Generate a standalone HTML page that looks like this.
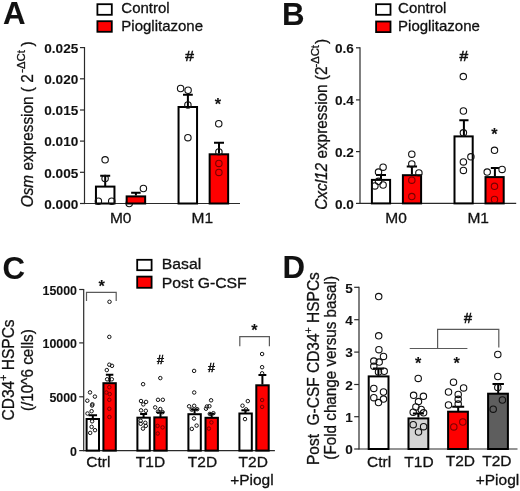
<!DOCTYPE html>
<html><head><meta charset="utf-8"><title>Figure</title>
<style>
html,body{margin:0;padding:0;background:#fff;}
body{width:520px;height:491px;overflow:hidden;}
svg{display:block;font-family:'Liberation Sans', Arial, Helvetica, sans-serif;}
svg text{fill:#111;stroke:#111;stroke-width:0.3px;}
svg text[font-weight=bold]{stroke-width:0.08px;}
svg text.h{stroke-width:0.55px;}
</style></head>
<body>
<svg width="520" height="491" viewBox="0 0 520 491">
<text x="3.0" y="24.4" font-size="31.2" font-weight="bold">A</text>
<rect x="97.4" y="4.2" width="14.4" height="10.60" fill="#fff" stroke="#000" stroke-width="1.8"/>
<rect x="97.4" y="21.2" width="14.4" height="10.60" fill="#fe0000" stroke="#000" stroke-width="1.8"/>
<text x="121.3" y="12.8" font-size="15">Control</text>
<text x="121.3" y="31.3" font-size="15">Pioglitazone</text>
<line x1="84.5" y1="47.0" x2="84.5" y2="204.1" stroke="#2a2a2a" stroke-width="1.2"/>
<line x1="80.0" y1="203.5" x2="84.5" y2="203.5" stroke="#2a2a2a" stroke-width="1.2"/>
<text x="78.3" y="208.8" font-size="13.6" font-weight="bold" text-anchor="end">0.000</text>
<line x1="80.0" y1="172.3" x2="84.5" y2="172.3" stroke="#2a2a2a" stroke-width="1.2"/>
<text x="78.3" y="177.6" font-size="13.6" font-weight="bold" text-anchor="end">0.005</text>
<line x1="80.0" y1="141.1" x2="84.5" y2="141.1" stroke="#2a2a2a" stroke-width="1.2"/>
<text x="78.3" y="146.4" font-size="13.6" font-weight="bold" text-anchor="end">0.010</text>
<line x1="80.0" y1="110.0" x2="84.5" y2="110.0" stroke="#2a2a2a" stroke-width="1.2"/>
<text x="78.3" y="115.3" font-size="13.6" font-weight="bold" text-anchor="end">0.015</text>
<line x1="80.0" y1="78.8" x2="84.5" y2="78.8" stroke="#2a2a2a" stroke-width="1.2"/>
<text x="78.3" y="84.1" font-size="13.6" font-weight="bold" text-anchor="end">0.020</text>
<line x1="80.0" y1="47.6" x2="84.5" y2="47.6" stroke="#2a2a2a" stroke-width="1.2"/>
<text x="78.3" y="52.9" font-size="13.6" font-weight="bold" text-anchor="end">0.025</text>
<line x1="84.5" y1="203.5" x2="240" y2="203.5" stroke="#2a2a2a" stroke-width="1.2"/>
<circle cx="129.20" cy="203.60" r="3.2" fill="none" stroke="#111" stroke-width="1.1"/>
<rect x="95.95" y="186.60" width="18.50" height="16.90" fill="#fff" stroke="#000" stroke-width="2"/>
<rect x="126.65" y="196.40" width="18.50" height="7.10" fill="#fe0000" stroke="#000" stroke-width="2"/>
<rect x="178.55" y="107.00" width="18.50" height="96.50" fill="#fff" stroke="#000" stroke-width="2"/>
<rect x="209.65" y="154.30" width="18.50" height="49.20" fill="#fe0000" stroke="#000" stroke-width="2"/>
<path d="M105.20 186.00V175.70M100.20 175.70H110.20" stroke="#000" stroke-width="2" fill="none"/>
<path d="M135.90 195.50V192.80M131.15 192.80H140.65" stroke="#000" stroke-width="2" fill="none"/>
<path d="M187.90 106.50V94.80M183.00 94.80H192.80" stroke="#000" stroke-width="2" fill="none"/>
<path d="M219.00 153.50V142.80M214.00 142.80H224.00" stroke="#000" stroke-width="2" fill="none"/>
<text x="189.45" y="60.6" font-size="15.5" text-anchor="middle" class="h">#</text>
<text x="217.85" y="109.6" font-size="16.3" font-weight="bold" text-anchor="middle">*</text>
<text x="120.7" y="223.1" font-size="15.5" text-anchor="middle">M0</text>
<text x="202.3" y="223.1" font-size="15.5" text-anchor="middle">M1</text>
<text transform="translate(32.9,207.3) rotate(-90) scale(0.96,1)" font-size="16"><tspan font-style="italic">Osm</tspan> expression ( 2</text>
<text transform="translate(25.2,72.7) rotate(-90)" font-size="11.3">-ΔCt</text>
<text transform="translate(32.9,46.4) rotate(-90) scale(0.96,1)" font-size="16">)</text>
<text x="281.9" y="24.8" font-size="31.2" font-weight="bold">B</text>
<rect x="376.09999999999997" y="4.2" width="14.4" height="10.60" fill="#fff" stroke="#000" stroke-width="1.8"/>
<rect x="376.09999999999997" y="21.5" width="14.4" height="10.60" fill="#fe0000" stroke="#000" stroke-width="1.8"/>
<text x="398.1" y="12.8" font-size="15">Control</text>
<text x="398.1" y="31.3" font-size="15">Pioglitazone</text>
<line x1="360.0" y1="47.199999999999996" x2="360.0" y2="204.0" stroke="#2a2a2a" stroke-width="1.2"/>
<line x1="356.0" y1="203.4" x2="360.0" y2="203.4" stroke="#2a2a2a" stroke-width="1.2"/>
<text x="353.9" y="208.7" font-size="13.6" font-weight="bold" text-anchor="end">0.0</text>
<line x1="356.0" y1="151.6" x2="360.0" y2="151.6" stroke="#2a2a2a" stroke-width="1.2"/>
<text x="353.9" y="156.9" font-size="13.6" font-weight="bold" text-anchor="end">0.2</text>
<line x1="356.0" y1="99.9" x2="360.0" y2="99.9" stroke="#2a2a2a" stroke-width="1.2"/>
<text x="353.9" y="105.2" font-size="13.6" font-weight="bold" text-anchor="end">0.4</text>
<line x1="356.0" y1="47.8" x2="360.0" y2="47.8" stroke="#2a2a2a" stroke-width="1.2"/>
<text x="353.9" y="53.1" font-size="13.6" font-weight="bold" text-anchor="end">0.6</text>
<line x1="360.0" y1="203.4" x2="516.2" y2="203.4" stroke="#2a2a2a" stroke-width="1.2"/>
<rect x="371.90" y="179.90" width="18.20" height="23.50" fill="#fff" stroke="#000" stroke-width="2"/>
<rect x="402.90" y="175.20" width="18.20" height="28.20" fill="#fe0000" stroke="#000" stroke-width="2"/>
<rect x="454.50" y="136.40" width="18.20" height="67.00" fill="#fff" stroke="#000" stroke-width="2"/>
<rect x="485.50" y="177.10" width="18.20" height="26.30" fill="#fe0000" stroke="#000" stroke-width="2"/>
<path d="M381.00 179.00V175.00M376.00 175.00H386.00" stroke="#000" stroke-width="2" fill="none"/>
<path d="M411.90 174.50V166.50M406.75 166.50H417.05" stroke="#000" stroke-width="2" fill="none"/>
<path d="M463.90 135.50V120.20M459.30 120.20H468.50" stroke="#000" stroke-width="2" fill="none"/>
<path d="M494.90 176.50V168.00M490.85 168.00H498.95" stroke="#000" stroke-width="2" fill="none"/>
<text x="463.85" y="61.1" font-size="15.5" text-anchor="middle" class="h">#</text>
<text x="494.3" y="140.4" font-size="16.3" font-weight="bold" text-anchor="middle">*</text>
<text x="396.0" y="223.1" font-size="15.5" text-anchor="middle">M0</text>
<text x="478.2" y="223.1" font-size="15.5" text-anchor="middle">M1</text>
<text transform="translate(326.8,209.8) rotate(-90) scale(0.96,1)" font-size="16"><tspan font-style="italic">Cxcl12</tspan> expression (2</text>
<text transform="translate(319.4,67.6) rotate(-90)" font-size="11.3">-ΔCt</text>
<text transform="translate(326.8,43.9) rotate(-90) scale(0.96,1)" font-size="16">)</text>
<text x="2.5" y="278.9" font-size="31.2" font-weight="bold">C</text>
<rect x="137.20000000000002" y="259.79999999999995" width="14.4" height="10.40" fill="#fff" stroke="#000" stroke-width="1.8"/>
<rect x="137.20000000000002" y="276.59999999999997" width="14.4" height="11.20" fill="#fe0000" stroke="#000" stroke-width="1.8"/>
<text transform="translate(161.7,269.0) scale(1.053,1)" font-size="15">Basal</text>
<text transform="translate(161.7,288.1) scale(1.053,1)" font-size="15">Post G-CSF</text>
<line x1="83.7" y1="288.9" x2="83.7" y2="451.20000000000005" stroke="#2a2a2a" stroke-width="1.2"/>
<line x1="79.2" y1="450.6" x2="83.7" y2="450.6" stroke="#2a2a2a" stroke-width="1.2"/>
<text x="77.0" y="455.6" font-size="12.4" font-weight="bold" text-anchor="end">0</text>
<line x1="79.2" y1="396.8" x2="83.7" y2="396.8" stroke="#2a2a2a" stroke-width="1.2"/>
<text x="77.0" y="401.8" font-size="12.4" font-weight="bold" text-anchor="end">5000</text>
<line x1="79.2" y1="342.9" x2="83.7" y2="342.9" stroke="#2a2a2a" stroke-width="1.2"/>
<text x="77.0" y="347.9" font-size="12.4" font-weight="bold" text-anchor="end">10000</text>
<line x1="79.2" y1="289.5" x2="83.7" y2="289.5" stroke="#2a2a2a" stroke-width="1.2"/>
<text x="77.0" y="294.5" font-size="12.4" font-weight="bold" text-anchor="end">15000</text>
<line x1="83.7" y1="450.6" x2="274.9" y2="450.6" stroke="#2a2a2a" stroke-width="1.2"/>
<rect x="86.60" y="419.00" width="12.40" height="31.60" fill="#fff" stroke="#000" stroke-width="2"/>
<rect x="103.40" y="383.20" width="12.40" height="67.40" fill="#fe0000" stroke="#000" stroke-width="2"/>
<rect x="137.40" y="417.70" width="12.40" height="32.90" fill="#fff" stroke="#000" stroke-width="2"/>
<rect x="154.30" y="417.40" width="12.40" height="33.20" fill="#fe0000" stroke="#000" stroke-width="2"/>
<rect x="188.40" y="414.20" width="12.40" height="36.40" fill="#fff" stroke="#000" stroke-width="2"/>
<rect x="205.50" y="417.80" width="12.40" height="32.80" fill="#fe0000" stroke="#000" stroke-width="2"/>
<rect x="239.40" y="413.50" width="12.40" height="37.10" fill="#fff" stroke="#000" stroke-width="2"/>
<rect x="256.30" y="385.30" width="12.40" height="65.30" fill="#fe0000" stroke="#000" stroke-width="2"/>
<path d="M92.80 418.50V415.20M88.55 415.20H97.05" stroke="#000" stroke-width="2" fill="none"/>
<path d="M109.60 382.50V374.80M105.85 374.80H113.35" stroke="#000" stroke-width="2" fill="none"/>
<path d="M143.60 417.00V414.00M140.10 414.00H147.10" stroke="#000" stroke-width="2" fill="none"/>
<path d="M160.50 417.00V412.50M157.00 412.50H164.00" stroke="#000" stroke-width="2" fill="none"/>
<path d="M194.60 413.50V409.50M190.85 409.50H198.35" stroke="#000" stroke-width="2" fill="none"/>
<path d="M211.70 417.00V413.80M208.70 413.80H214.70" stroke="#000" stroke-width="2" fill="none"/>
<path d="M245.40 413.00V410.20M241.40 410.20H249.40" stroke="#000" stroke-width="2" fill="none"/>
<path d="M262.40 384.50V375.10M258.45 375.10H266.35" stroke="#000" stroke-width="2" fill="none"/>
<path d="M86.5 301 V292.3 H116.2 V301" fill="none" stroke="#5a5a5a" stroke-width="1.2"/>
<path d="M239.8 346.2 V336.7 H269.4 V346.2" fill="none" stroke="#5a5a5a" stroke-width="1.2"/>
<text x="101.6" y="291.6" font-size="16.3" font-weight="bold" text-anchor="middle">*</text>
<text x="254.45" y="335.7" font-size="16.3" font-weight="bold" text-anchor="middle">*</text>
<text x="160.4" y="363.5" font-size="12.3" text-anchor="middle" class="h">#</text>
<text x="211.4" y="372.2" font-size="12.3" text-anchor="middle" class="h">#</text>
<text x="98.3" y="466.5" font-size="15.5" text-anchor="middle">Ctrl</text>
<text x="150.5" y="466.6" font-size="15.5" text-anchor="middle">T1D</text>
<text x="202.5" y="466.6" font-size="15.5" text-anchor="middle">T2D</text>
<text x="253.2" y="466.6" font-size="15.5" text-anchor="middle">T2D</text>
<text x="251.9" y="485.0" font-size="15.5" text-anchor="middle">+Piogl</text>
<text transform="translate(14.0,369.9) rotate(-90) scale(0.97,1)" font-size="16" text-anchor="middle">CD34<tspan font-size="11" dy="-7">+</tspan><tspan dy="7"> HSPCs</tspan></text>
<text transform="translate(33.0,370.1) rotate(-90) scale(0.955,1)" font-size="16" text-anchor="middle">(/10^6 cells)</text>
<text x="282.5" y="278.2" font-size="31.2" font-weight="bold">D</text>
<line x1="359.0" y1="286.7" x2="359.0" y2="449.6" stroke="#2a2a2a" stroke-width="1.2"/>
<line x1="354.2" y1="449.0" x2="359.0" y2="449.0" stroke="#2a2a2a" stroke-width="1.2"/>
<text x="352.9" y="454.3" font-size="13.6" font-weight="bold" text-anchor="end">0</text>
<line x1="354.2" y1="416.7" x2="359.0" y2="416.7" stroke="#2a2a2a" stroke-width="1.2"/>
<text x="352.9" y="422.0" font-size="13.6" font-weight="bold" text-anchor="end">1</text>
<line x1="354.2" y1="384.5" x2="359.0" y2="384.5" stroke="#2a2a2a" stroke-width="1.2"/>
<text x="352.9" y="389.8" font-size="13.6" font-weight="bold" text-anchor="end">2</text>
<line x1="354.2" y1="352.1" x2="359.0" y2="352.1" stroke="#2a2a2a" stroke-width="1.2"/>
<text x="352.9" y="357.4" font-size="13.6" font-weight="bold" text-anchor="end">3</text>
<line x1="354.2" y1="319.7" x2="359.0" y2="319.7" stroke="#2a2a2a" stroke-width="1.2"/>
<text x="352.9" y="325.0" font-size="13.6" font-weight="bold" text-anchor="end">4</text>
<line x1="354.2" y1="287.3" x2="359.0" y2="287.3" stroke="#2a2a2a" stroke-width="1.2"/>
<text x="352.9" y="292.6" font-size="13.6" font-weight="bold" text-anchor="end">5</text>
<line x1="359.0" y1="449.0" x2="517.5" y2="449.0" stroke="#2a2a2a" stroke-width="1.2"/>
<rect x="368.70" y="376.40" width="19.80" height="72.60" fill="#fff" stroke="#000" stroke-width="2"/>
<rect x="408.50" y="418.40" width="19.80" height="30.60" fill="#d4d4d4" stroke="#000" stroke-width="2"/>
<rect x="448.10" y="411.70" width="19.80" height="37.30" fill="#fe0000" stroke="#000" stroke-width="2"/>
<rect x="488.10" y="393.70" width="19.80" height="55.30" fill="#5e5e5e" stroke="#000" stroke-width="2"/>
<path d="M378.40 375.50V368.60M372.90 368.60H383.90" stroke="#000" stroke-width="2" fill="none"/>
<path d="M418.40 417.50V413.40M412.90 413.40H423.90" stroke="#000" stroke-width="2" fill="none"/>
<path d="M458.20 411.00V406.80M452.20 406.80H464.20" stroke="#000" stroke-width="2" fill="none"/>
<path d="M498.20 393.00V383.90M492.50 383.90H503.90" stroke="#000" stroke-width="2" fill="none"/>
<path d="M409.7 348.5 H467.4 M437.6 348.5 V329.3 H498.8 V347.6" fill="none" stroke="#5a5a5a" stroke-width="1.2"/>
<text x="468.1" y="322.5" font-size="14.3" text-anchor="middle" class="h">#</text>
<text x="418.1" y="369.0" font-size="16.3" font-weight="bold" text-anchor="middle">*</text>
<text x="456.75" y="369.0" font-size="16.3" font-weight="bold" text-anchor="middle">*</text>
<text x="379.1" y="466.5" font-size="15.5" text-anchor="middle">Ctrl</text>
<text x="419.0" y="466.5" font-size="15.5" text-anchor="middle">T1D</text>
<text x="460.4" y="466.1" font-size="15.5" text-anchor="middle">T2D</text>
<text x="496.9" y="466.3" font-size="15.5" text-anchor="middle">T2D</text>
<text x="497.5" y="485.3" font-size="15.5" text-anchor="middle">+Piogl</text>
<text transform="translate(318.7,368.6) rotate(-90) scale(0.968,1)" font-size="16" text-anchor="middle" xml:space="preserve">Post  G-CSF CD34<tspan font-size="11" dy="-7">+</tspan><tspan dy="7"> HSPCs</tspan></text>
<text transform="translate(336.4,367.8) rotate(-90) scale(0.953,1)" font-size="16" text-anchor="middle">(Fold change versus basal)</text>
<defs><clipPath id="inred"><rect x="127.65" y="197.40" width="16.50" height="5.10"/><rect x="210.65" y="155.30" width="16.50" height="47.20"/><rect x="403.90" y="176.20" width="16.20" height="26.20"/><rect x="486.50" y="178.10" width="16.20" height="24.30"/><rect x="104.40" y="384.20" width="10.40" height="65.40"/><rect x="155.30" y="418.40" width="10.40" height="31.20"/><rect x="206.50" y="418.80" width="10.40" height="30.80"/><rect x="257.30" y="386.30" width="10.40" height="63.30"/><rect x="449.10" y="412.70" width="17.80" height="35.30"/></clipPath><mask id="outred" maskUnits="userSpaceOnUse" x="0" y="0" width="520" height="491"><rect x="0" y="0" width="520" height="491" fill="#fff"/><rect x="127.65" y="197.40" width="16.50" height="5.10" fill="#000"/><rect x="210.65" y="155.30" width="16.50" height="47.20" fill="#000"/><rect x="403.90" y="176.20" width="16.20" height="26.20" fill="#000"/><rect x="486.50" y="178.10" width="16.20" height="24.30" fill="#000"/><rect x="104.40" y="384.20" width="10.40" height="65.40" fill="#000"/><rect x="155.30" y="418.40" width="10.40" height="31.20" fill="#000"/><rect x="206.50" y="418.80" width="10.40" height="30.80" fill="#000"/><rect x="257.30" y="386.30" width="10.40" height="63.30" fill="#000"/><rect x="449.10" y="412.70" width="17.80" height="35.30" fill="#000"/></mask></defs>
<g fill="none" stroke="#111" mask="url(#outred)"><circle cx="105.10" cy="159.80" r="3.2" stroke-width="1.1"/><circle cx="105.10" cy="178.60" r="3.2" stroke-width="1.1"/><circle cx="98.40" cy="201.20" r="3.2" stroke-width="1.1"/><circle cx="111.70" cy="201.20" r="3.2" stroke-width="1.1"/><circle cx="143.40" cy="188.50" r="3.2" stroke-width="1.1"/><circle cx="180.60" cy="88.50" r="3.2" stroke-width="1.1"/><circle cx="188.10" cy="90.25" r="3.2" stroke-width="1.1"/><circle cx="187.90" cy="105.00" r="3.2" stroke-width="1.1"/><circle cx="187.90" cy="137.70" r="3.2" stroke-width="1.1"/><circle cx="218.75" cy="123.75" r="3.2" stroke-width="1.1"/><circle cx="218.90" cy="152.00" r="3.2" stroke-width="1.1"/><circle cx="218.90" cy="163.40" r="3.2" stroke-width="1.1"/><circle cx="218.90" cy="172.40" r="3.2" stroke-width="1.1"/><circle cx="383.10" cy="167.20" r="3.2" stroke-width="1.1"/><circle cx="378.50" cy="172.10" r="3.2" stroke-width="1.1"/><circle cx="374.90" cy="185.90" r="3.2" stroke-width="1.1"/><circle cx="383.10" cy="185.00" r="3.2" stroke-width="1.1"/><circle cx="378.50" cy="181.30" r="3.2" stroke-width="1.1"/><circle cx="411.80" cy="154.20" r="3.2" stroke-width="1.1"/><circle cx="411.80" cy="163.90" r="3.2" stroke-width="1.1"/><circle cx="418.90" cy="173.00" r="3.2" stroke-width="1.1"/><circle cx="463.30" cy="76.60" r="3.2" stroke-width="1.1"/><circle cx="463.40" cy="111.00" r="3.2" stroke-width="1.1"/><circle cx="463.40" cy="132.80" r="3.2" stroke-width="1.1"/><circle cx="470.90" cy="156.80" r="3.2" stroke-width="1.1"/><circle cx="463.40" cy="161.90" r="3.2" stroke-width="1.1"/><circle cx="463.40" cy="170.40" r="3.2" stroke-width="1.1"/><circle cx="494.50" cy="150.30" r="3.2" stroke-width="1.1"/><circle cx="487.20" cy="172.10" r="3.2" stroke-width="1.1"/><circle cx="502.10" cy="169.40" r="3.2" stroke-width="1.1"/><circle cx="411.80" cy="180.20" r="3.2" stroke-width="1.1"/><circle cx="411.80" cy="196.60" r="3.2" stroke-width="1.1"/><circle cx="494.50" cy="186.30" r="3.2" stroke-width="1.1"/><circle cx="494.50" cy="199.50" r="3.2" stroke-width="1.1"/><circle cx="90.00" cy="392.40" r="1.75" stroke-width="1.0"/><circle cx="94.90" cy="396.60" r="1.75" stroke-width="1.0"/><circle cx="87.30" cy="400.70" r="1.75" stroke-width="1.0"/><circle cx="92.40" cy="404.30" r="1.75" stroke-width="1.0"/><circle cx="91.60" cy="411.20" r="1.75" stroke-width="1.0"/><circle cx="87.50" cy="413.50" r="1.75" stroke-width="1.0"/><circle cx="92.10" cy="405.50" r="1.75" stroke-width="1.0"/><circle cx="92.10" cy="421.30" r="1.75" stroke-width="1.0"/><circle cx="91.60" cy="426.90" r="1.75" stroke-width="1.0"/><circle cx="95.00" cy="430.20" r="1.75" stroke-width="1.0"/><circle cx="90.20" cy="432.90" r="1.75" stroke-width="1.0"/><circle cx="109.50" cy="301.80" r="1.75" stroke-width="1.0"/><circle cx="109.30" cy="336.90" r="1.75" stroke-width="1.0"/><circle cx="109.30" cy="364.70" r="1.75" stroke-width="1.0"/><circle cx="112.00" cy="365.80" r="1.75" stroke-width="1.0"/><circle cx="106.80" cy="370.10" r="1.75" stroke-width="1.0"/><circle cx="107.10" cy="379.30" r="1.75" stroke-width="1.0"/><circle cx="111.80" cy="379.30" r="1.75" stroke-width="1.0"/><circle cx="143.10" cy="384.20" r="1.75" stroke-width="1.0"/><circle cx="141.00" cy="401.00" r="1.75" stroke-width="1.0"/><circle cx="146.10" cy="401.90" r="1.75" stroke-width="1.0"/><circle cx="143.30" cy="404.40" r="1.75" stroke-width="1.0"/><circle cx="141.00" cy="410.40" r="1.75" stroke-width="1.0"/><circle cx="145.80" cy="410.80" r="1.75" stroke-width="1.0"/><circle cx="140.70" cy="420.80" r="1.75" stroke-width="1.0"/><circle cx="145.30" cy="422.80" r="1.75" stroke-width="1.0"/><circle cx="140.70" cy="423.80" r="1.75" stroke-width="1.0"/><circle cx="145.80" cy="425.90" r="1.75" stroke-width="1.0"/><circle cx="143.00" cy="428.60" r="1.75" stroke-width="1.0"/><circle cx="160.30" cy="378.10" r="1.75" stroke-width="1.0"/><circle cx="158.00" cy="399.80" r="1.75" stroke-width="1.0"/><circle cx="162.80" cy="399.80" r="1.75" stroke-width="1.0"/><circle cx="155.20" cy="407.40" r="1.75" stroke-width="1.0"/><circle cx="160.30" cy="409.00" r="1.75" stroke-width="1.0"/><circle cx="158.00" cy="411.70" r="1.75" stroke-width="1.0"/><circle cx="162.60" cy="412.20" r="1.75" stroke-width="1.0"/><circle cx="194.10" cy="370.90" r="1.75" stroke-width="1.0"/><circle cx="194.20" cy="392.50" r="1.75" stroke-width="1.0"/><circle cx="189.10" cy="406.30" r="1.75" stroke-width="1.0"/><circle cx="194.20" cy="405.80" r="1.75" stroke-width="1.0"/><circle cx="194.00" cy="418.50" r="1.75" stroke-width="1.0"/><circle cx="196.60" cy="425.60" r="1.75" stroke-width="1.0"/><circle cx="191.80" cy="428.90" r="1.75" stroke-width="1.0"/><circle cx="211.10" cy="400.30" r="1.75" stroke-width="1.0"/><circle cx="206.90" cy="406.50" r="1.75" stroke-width="1.0"/><circle cx="209.40" cy="406.20" r="1.75" stroke-width="1.0"/><circle cx="206.00" cy="408.70" r="1.75" stroke-width="1.0"/><circle cx="213.40" cy="413.20" r="1.75" stroke-width="1.0"/><circle cx="209.80" cy="413.90" r="1.75" stroke-width="1.0"/><circle cx="191.70" cy="409.60" r="1.75" stroke-width="1.0"/><circle cx="197.20" cy="409.20" r="1.75" stroke-width="1.0"/><circle cx="242.50" cy="405.70" r="1.75" stroke-width="1.0"/><circle cx="247.80" cy="401.10" r="1.75" stroke-width="1.0"/><circle cx="246.10" cy="409.40" r="1.75" stroke-width="1.0"/><circle cx="245.00" cy="419.10" r="1.75" stroke-width="1.0"/><circle cx="262.10" cy="354.00" r="1.75" stroke-width="1.0"/><circle cx="262.10" cy="367.20" r="1.75" stroke-width="1.0"/><circle cx="262.10" cy="373.30" r="1.75" stroke-width="1.0"/><circle cx="109.30" cy="387.20" r="1.75" stroke-width="1.0"/><circle cx="106.40" cy="392.50" r="1.75" stroke-width="1.0"/><circle cx="109.70" cy="394.10" r="1.75" stroke-width="1.0"/><circle cx="109.30" cy="399.80" r="1.75" stroke-width="1.0"/><circle cx="109.30" cy="408.80" r="1.75" stroke-width="1.0"/><circle cx="109.40" cy="417.00" r="1.75" stroke-width="1.0"/><circle cx="157.50" cy="425.90" r="1.75" stroke-width="1.0"/><circle cx="162.60" cy="427.40" r="1.75" stroke-width="1.0"/><circle cx="157.70" cy="433.50" r="1.75" stroke-width="1.0"/><circle cx="211.40" cy="422.40" r="1.75" stroke-width="1.0"/><circle cx="208.90" cy="428.60" r="1.75" stroke-width="1.0"/><circle cx="262.10" cy="400.00" r="1.75" stroke-width="1.0"/><circle cx="262.10" cy="406.90" r="1.75" stroke-width="1.0"/><circle cx="378.70" cy="296.60" r="3.2" stroke-width="1.1"/><circle cx="378.70" cy="335.80" r="3.2" stroke-width="1.1"/><circle cx="378.90" cy="349.70" r="3.2" stroke-width="1.1"/><circle cx="383.50" cy="356.40" r="3.2" stroke-width="1.1"/><circle cx="373.80" cy="361.10" r="3.2" stroke-width="1.1"/><circle cx="379.20" cy="362.10" r="3.2" stroke-width="1.1"/><circle cx="373.80" cy="366.30" r="3.2" stroke-width="1.1"/><circle cx="378.50" cy="372.00" r="3.2" stroke-width="1.1"/><circle cx="384.20" cy="371.30" r="3.2" stroke-width="1.1"/><circle cx="373.80" cy="388.40" r="3.2" stroke-width="1.1"/><circle cx="383.50" cy="392.00" r="3.2" stroke-width="1.1"/><circle cx="373.80" cy="397.70" r="3.2" stroke-width="1.1"/><circle cx="383.50" cy="399.10" r="3.2" stroke-width="1.1"/><circle cx="378.50" cy="402.60" r="3.2" stroke-width="1.1"/><circle cx="418.20" cy="378.40" r="3.2" stroke-width="1.1"/><circle cx="413.60" cy="395.30" r="3.2" stroke-width="1.1"/><circle cx="423.40" cy="396.30" r="3.2" stroke-width="1.1"/><circle cx="418.50" cy="401.60" r="3.2" stroke-width="1.1"/><circle cx="415.90" cy="406.90" r="3.2" stroke-width="1.1"/><circle cx="421.20" cy="409.50" r="3.2" stroke-width="1.1"/><circle cx="413.20" cy="412.20" r="3.2" stroke-width="1.1"/><circle cx="423.60" cy="412.80" r="3.2" stroke-width="1.1"/><circle cx="413.20" cy="424.70" r="3.2" stroke-width="1.1"/><circle cx="423.60" cy="426.70" r="3.2" stroke-width="1.1"/><circle cx="418.50" cy="432.00" r="3.2" stroke-width="1.1"/><circle cx="453.50" cy="382.20" r="3.2" stroke-width="1.1"/><circle cx="463.60" cy="387.90" r="3.2" stroke-width="1.1"/><circle cx="448.50" cy="392.00" r="3.2" stroke-width="1.1"/><circle cx="458.20" cy="394.40" r="3.2" stroke-width="1.1"/><circle cx="458.20" cy="399.30" r="3.2" stroke-width="1.1"/><circle cx="448.50" cy="405.00" r="3.2" stroke-width="1.1"/><circle cx="458.20" cy="404.10" r="3.2" stroke-width="1.1"/><circle cx="497.80" cy="354.50" r="3.2" stroke-width="1.1"/><circle cx="497.80" cy="376.50" r="3.2" stroke-width="1.1"/><circle cx="497.80" cy="387.50" r="3.2" stroke-width="1.1"/><circle cx="502.40" cy="400.00" r="3.2" stroke-width="1.1"/><circle cx="493.20" cy="409.20" r="3.2" stroke-width="1.1"/><circle cx="462.80" cy="422.00" r="3.2" stroke-width="1.1"/><circle cx="453.80" cy="426.90" r="3.2" stroke-width="1.1"/></g>
<g fill="none" stroke="#7a0000" clip-path="url(#inred)"><circle cx="105.10" cy="159.80" r="3.2" stroke-width="1.1"/><circle cx="105.10" cy="178.60" r="3.2" stroke-width="1.1"/><circle cx="98.40" cy="201.20" r="3.2" stroke-width="1.1"/><circle cx="111.70" cy="201.20" r="3.2" stroke-width="1.1"/><circle cx="143.40" cy="188.50" r="3.2" stroke-width="1.1"/><circle cx="180.60" cy="88.50" r="3.2" stroke-width="1.1"/><circle cx="188.10" cy="90.25" r="3.2" stroke-width="1.1"/><circle cx="187.90" cy="105.00" r="3.2" stroke-width="1.1"/><circle cx="187.90" cy="137.70" r="3.2" stroke-width="1.1"/><circle cx="218.75" cy="123.75" r="3.2" stroke-width="1.1"/><circle cx="218.90" cy="152.00" r="3.2" stroke-width="1.1"/><circle cx="218.90" cy="163.40" r="3.2" stroke-width="1.1"/><circle cx="218.90" cy="172.40" r="3.2" stroke-width="1.1"/><circle cx="383.10" cy="167.20" r="3.2" stroke-width="1.1"/><circle cx="378.50" cy="172.10" r="3.2" stroke-width="1.1"/><circle cx="374.90" cy="185.90" r="3.2" stroke-width="1.1"/><circle cx="383.10" cy="185.00" r="3.2" stroke-width="1.1"/><circle cx="378.50" cy="181.30" r="3.2" stroke-width="1.1"/><circle cx="411.80" cy="154.20" r="3.2" stroke-width="1.1"/><circle cx="411.80" cy="163.90" r="3.2" stroke-width="1.1"/><circle cx="418.90" cy="173.00" r="3.2" stroke-width="1.1"/><circle cx="463.30" cy="76.60" r="3.2" stroke-width="1.1"/><circle cx="463.40" cy="111.00" r="3.2" stroke-width="1.1"/><circle cx="463.40" cy="132.80" r="3.2" stroke-width="1.1"/><circle cx="470.90" cy="156.80" r="3.2" stroke-width="1.1"/><circle cx="463.40" cy="161.90" r="3.2" stroke-width="1.1"/><circle cx="463.40" cy="170.40" r="3.2" stroke-width="1.1"/><circle cx="494.50" cy="150.30" r="3.2" stroke-width="1.1"/><circle cx="487.20" cy="172.10" r="3.2" stroke-width="1.1"/><circle cx="502.10" cy="169.40" r="3.2" stroke-width="1.1"/><circle cx="411.80" cy="180.20" r="3.2" stroke-width="1.1"/><circle cx="411.80" cy="196.60" r="3.2" stroke-width="1.1"/><circle cx="494.50" cy="186.30" r="3.2" stroke-width="1.1"/><circle cx="494.50" cy="199.50" r="3.2" stroke-width="1.1"/><circle cx="90.00" cy="392.40" r="1.75" stroke-width="1.0"/><circle cx="94.90" cy="396.60" r="1.75" stroke-width="1.0"/><circle cx="87.30" cy="400.70" r="1.75" stroke-width="1.0"/><circle cx="92.40" cy="404.30" r="1.75" stroke-width="1.0"/><circle cx="91.60" cy="411.20" r="1.75" stroke-width="1.0"/><circle cx="87.50" cy="413.50" r="1.75" stroke-width="1.0"/><circle cx="92.10" cy="405.50" r="1.75" stroke-width="1.0"/><circle cx="92.10" cy="421.30" r="1.75" stroke-width="1.0"/><circle cx="91.60" cy="426.90" r="1.75" stroke-width="1.0"/><circle cx="95.00" cy="430.20" r="1.75" stroke-width="1.0"/><circle cx="90.20" cy="432.90" r="1.75" stroke-width="1.0"/><circle cx="109.50" cy="301.80" r="1.75" stroke-width="1.0"/><circle cx="109.30" cy="336.90" r="1.75" stroke-width="1.0"/><circle cx="109.30" cy="364.70" r="1.75" stroke-width="1.0"/><circle cx="112.00" cy="365.80" r="1.75" stroke-width="1.0"/><circle cx="106.80" cy="370.10" r="1.75" stroke-width="1.0"/><circle cx="107.10" cy="379.30" r="1.75" stroke-width="1.0"/><circle cx="111.80" cy="379.30" r="1.75" stroke-width="1.0"/><circle cx="143.10" cy="384.20" r="1.75" stroke-width="1.0"/><circle cx="141.00" cy="401.00" r="1.75" stroke-width="1.0"/><circle cx="146.10" cy="401.90" r="1.75" stroke-width="1.0"/><circle cx="143.30" cy="404.40" r="1.75" stroke-width="1.0"/><circle cx="141.00" cy="410.40" r="1.75" stroke-width="1.0"/><circle cx="145.80" cy="410.80" r="1.75" stroke-width="1.0"/><circle cx="140.70" cy="420.80" r="1.75" stroke-width="1.0"/><circle cx="145.30" cy="422.80" r="1.75" stroke-width="1.0"/><circle cx="140.70" cy="423.80" r="1.75" stroke-width="1.0"/><circle cx="145.80" cy="425.90" r="1.75" stroke-width="1.0"/><circle cx="143.00" cy="428.60" r="1.75" stroke-width="1.0"/><circle cx="160.30" cy="378.10" r="1.75" stroke-width="1.0"/><circle cx="158.00" cy="399.80" r="1.75" stroke-width="1.0"/><circle cx="162.80" cy="399.80" r="1.75" stroke-width="1.0"/><circle cx="155.20" cy="407.40" r="1.75" stroke-width="1.0"/><circle cx="160.30" cy="409.00" r="1.75" stroke-width="1.0"/><circle cx="158.00" cy="411.70" r="1.75" stroke-width="1.0"/><circle cx="162.60" cy="412.20" r="1.75" stroke-width="1.0"/><circle cx="194.10" cy="370.90" r="1.75" stroke-width="1.0"/><circle cx="194.20" cy="392.50" r="1.75" stroke-width="1.0"/><circle cx="189.10" cy="406.30" r="1.75" stroke-width="1.0"/><circle cx="194.20" cy="405.80" r="1.75" stroke-width="1.0"/><circle cx="194.00" cy="418.50" r="1.75" stroke-width="1.0"/><circle cx="196.60" cy="425.60" r="1.75" stroke-width="1.0"/><circle cx="191.80" cy="428.90" r="1.75" stroke-width="1.0"/><circle cx="211.10" cy="400.30" r="1.75" stroke-width="1.0"/><circle cx="206.90" cy="406.50" r="1.75" stroke-width="1.0"/><circle cx="209.40" cy="406.20" r="1.75" stroke-width="1.0"/><circle cx="206.00" cy="408.70" r="1.75" stroke-width="1.0"/><circle cx="213.40" cy="413.20" r="1.75" stroke-width="1.0"/><circle cx="209.80" cy="413.90" r="1.75" stroke-width="1.0"/><circle cx="191.70" cy="409.60" r="1.75" stroke-width="1.0"/><circle cx="197.20" cy="409.20" r="1.75" stroke-width="1.0"/><circle cx="242.50" cy="405.70" r="1.75" stroke-width="1.0"/><circle cx="247.80" cy="401.10" r="1.75" stroke-width="1.0"/><circle cx="246.10" cy="409.40" r="1.75" stroke-width="1.0"/><circle cx="245.00" cy="419.10" r="1.75" stroke-width="1.0"/><circle cx="262.10" cy="354.00" r="1.75" stroke-width="1.0"/><circle cx="262.10" cy="367.20" r="1.75" stroke-width="1.0"/><circle cx="262.10" cy="373.30" r="1.75" stroke-width="1.0"/><circle cx="109.30" cy="387.20" r="1.75" stroke-width="1.0"/><circle cx="106.40" cy="392.50" r="1.75" stroke-width="1.0"/><circle cx="109.70" cy="394.10" r="1.75" stroke-width="1.0"/><circle cx="109.30" cy="399.80" r="1.75" stroke-width="1.0"/><circle cx="109.30" cy="408.80" r="1.75" stroke-width="1.0"/><circle cx="109.40" cy="417.00" r="1.75" stroke-width="1.0"/><circle cx="157.50" cy="425.90" r="1.75" stroke-width="1.0"/><circle cx="162.60" cy="427.40" r="1.75" stroke-width="1.0"/><circle cx="157.70" cy="433.50" r="1.75" stroke-width="1.0"/><circle cx="211.40" cy="422.40" r="1.75" stroke-width="1.0"/><circle cx="208.90" cy="428.60" r="1.75" stroke-width="1.0"/><circle cx="262.10" cy="400.00" r="1.75" stroke-width="1.0"/><circle cx="262.10" cy="406.90" r="1.75" stroke-width="1.0"/><circle cx="378.70" cy="296.60" r="3.2" stroke-width="1.1"/><circle cx="378.70" cy="335.80" r="3.2" stroke-width="1.1"/><circle cx="378.90" cy="349.70" r="3.2" stroke-width="1.1"/><circle cx="383.50" cy="356.40" r="3.2" stroke-width="1.1"/><circle cx="373.80" cy="361.10" r="3.2" stroke-width="1.1"/><circle cx="379.20" cy="362.10" r="3.2" stroke-width="1.1"/><circle cx="373.80" cy="366.30" r="3.2" stroke-width="1.1"/><circle cx="378.50" cy="372.00" r="3.2" stroke-width="1.1"/><circle cx="384.20" cy="371.30" r="3.2" stroke-width="1.1"/><circle cx="373.80" cy="388.40" r="3.2" stroke-width="1.1"/><circle cx="383.50" cy="392.00" r="3.2" stroke-width="1.1"/><circle cx="373.80" cy="397.70" r="3.2" stroke-width="1.1"/><circle cx="383.50" cy="399.10" r="3.2" stroke-width="1.1"/><circle cx="378.50" cy="402.60" r="3.2" stroke-width="1.1"/><circle cx="418.20" cy="378.40" r="3.2" stroke-width="1.1"/><circle cx="413.60" cy="395.30" r="3.2" stroke-width="1.1"/><circle cx="423.40" cy="396.30" r="3.2" stroke-width="1.1"/><circle cx="418.50" cy="401.60" r="3.2" stroke-width="1.1"/><circle cx="415.90" cy="406.90" r="3.2" stroke-width="1.1"/><circle cx="421.20" cy="409.50" r="3.2" stroke-width="1.1"/><circle cx="413.20" cy="412.20" r="3.2" stroke-width="1.1"/><circle cx="423.60" cy="412.80" r="3.2" stroke-width="1.1"/><circle cx="413.20" cy="424.70" r="3.2" stroke-width="1.1"/><circle cx="423.60" cy="426.70" r="3.2" stroke-width="1.1"/><circle cx="418.50" cy="432.00" r="3.2" stroke-width="1.1"/><circle cx="453.50" cy="382.20" r="3.2" stroke-width="1.1"/><circle cx="463.60" cy="387.90" r="3.2" stroke-width="1.1"/><circle cx="448.50" cy="392.00" r="3.2" stroke-width="1.1"/><circle cx="458.20" cy="394.40" r="3.2" stroke-width="1.1"/><circle cx="458.20" cy="399.30" r="3.2" stroke-width="1.1"/><circle cx="448.50" cy="405.00" r="3.2" stroke-width="1.1"/><circle cx="458.20" cy="404.10" r="3.2" stroke-width="1.1"/><circle cx="497.80" cy="354.50" r="3.2" stroke-width="1.1"/><circle cx="497.80" cy="376.50" r="3.2" stroke-width="1.1"/><circle cx="497.80" cy="387.50" r="3.2" stroke-width="1.1"/><circle cx="502.40" cy="400.00" r="3.2" stroke-width="1.1"/><circle cx="493.20" cy="409.20" r="3.2" stroke-width="1.1"/><circle cx="462.80" cy="422.00" r="3.2" stroke-width="1.1"/><circle cx="453.80" cy="426.90" r="3.2" stroke-width="1.1"/></g>
</svg>
</body></html>
